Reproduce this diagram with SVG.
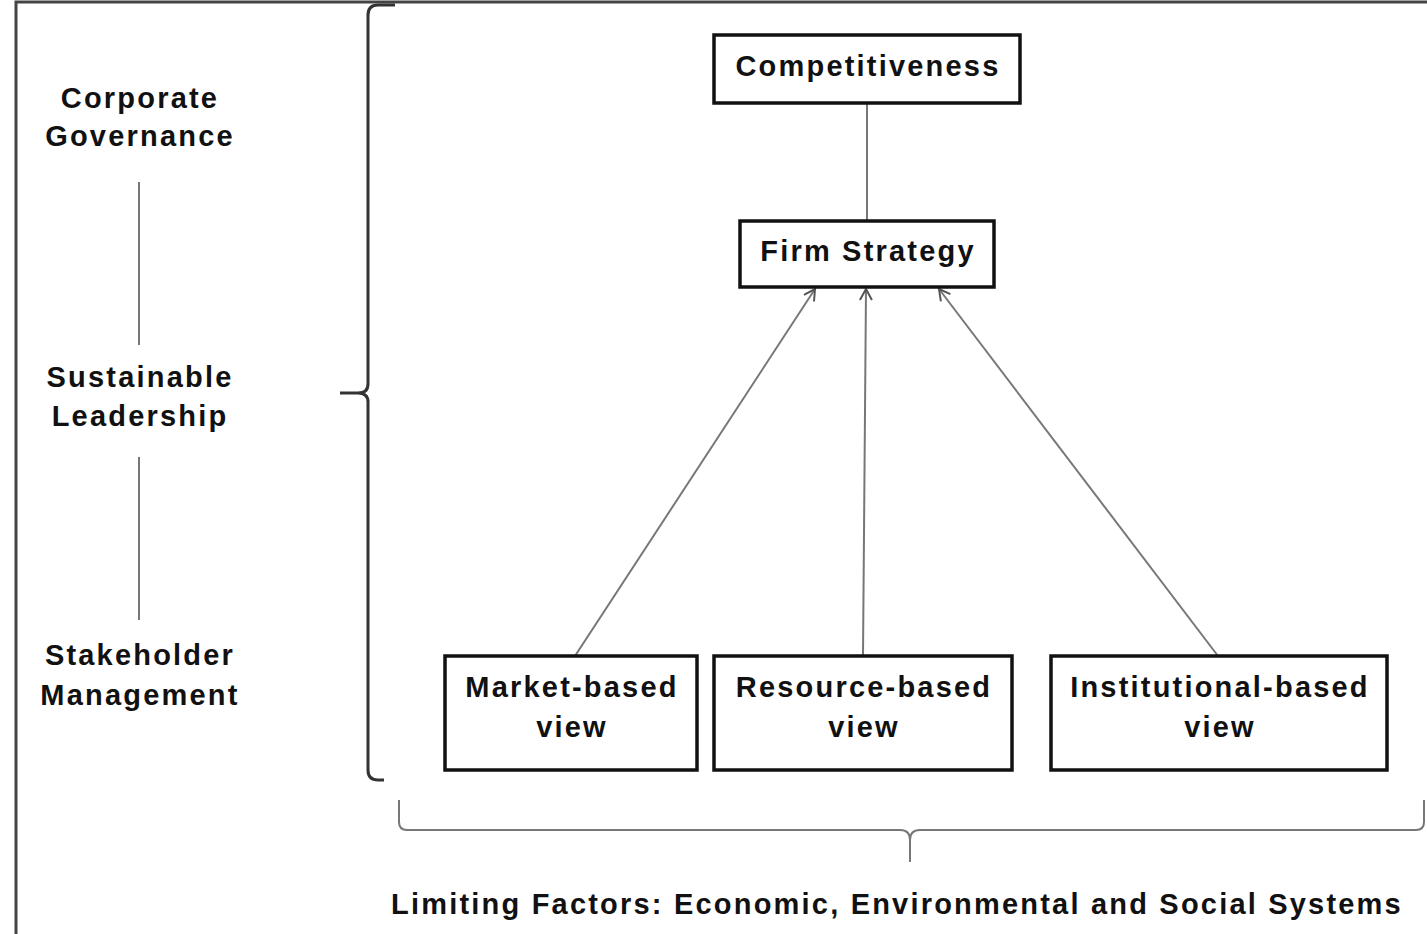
<svg xmlns="http://www.w3.org/2000/svg" width="1427" height="934" viewBox="0 0 1427 934">
<style>
.t{font-family:"Liberation Sans",Arial,sans-serif;font-weight:bold;font-size:29px;letter-spacing:2.2px;fill:#111;text-anchor:middle}
.box{fill:#fff;stroke:#111;stroke-width:3.5}
.ln{stroke:#777;stroke-width:2;fill:none}
.br{stroke:#333;stroke-width:3;fill:none}
</style>
<defs>
<marker id="ah" markerWidth="14" markerHeight="14" refX="12" refY="7" orient="auto" markerUnits="userSpaceOnUse">
<path d="M1,1 L12,7 L1,13" fill="none" stroke="#555" stroke-width="2"/>
</marker>
</defs>
<rect x="16" y="2" width="1430" height="950" fill="#fff" stroke="#444" stroke-width="3"/>
<g id="left-labels">
<text class="t" x="140" y="108">Corporate</text>
<text class="t" x="140" y="146">Governance</text>
<text class="t" x="140" y="387">Sustainable</text>
<text class="t" x="140" y="426">Leadership</text>
<text class="t" x="140" y="665">Stakeholder</text>
<text class="t" x="140" y="705">Management</text>
</g>
<g id="braces">
<path class="br" d="M395,5 L378,5 Q368,5 368,15 L368,384 Q368,393 358,393 L340,393 M358,393 Q368,393 368,402 L368,770 Q368,780 378,780 L384,780"/>
<path class="ln" d="M399,800 L399,822 Q399,830 407,830 L900,830 Q910,830 910,840 L910,862 M910,840 Q910,830 920,830 L1416,830 Q1424,830 1424,822 L1424,800"/>
<text class="t" x="897" y="914">Limiting Factors: Economic, Environmental and Social Systems</text>
</g>
<g id="connectors">
<line class="ln" x1="139" y1="182" x2="139" y2="345"/>
<line class="ln" x1="139" y1="457" x2="139" y2="620"/>
<line class="ln" x1="867" y1="104" x2="867" y2="220"/>
<line class="ln" x1="575" y1="656" x2="815" y2="289" marker-end="url(#ah)"/>
<line class="ln" x1="863" y1="656" x2="866" y2="289" marker-end="url(#ah)"/>
<line class="ln" x1="1218" y1="656" x2="939" y2="289" marker-end="url(#ah)"/>
</g>
<g id="competitiveness"><rect class="box" x="714" y="35" width="306" height="68"/><text class="t" x="868" y="76">Competitiveness</text></g>
<g id="firm-strategy"><rect class="box" x="740" y="221" width="254" height="66"/><text class="t" x="868" y="261">Firm Strategy</text></g>
<g id="market"><rect class="box" x="445" y="656" width="252" height="114"/><text class="t" x="572" y="697">Market-based</text><text class="t" x="572" y="737">view</text></g>
<g id="resource"><rect class="box" x="714" y="656" width="298" height="114"/><text class="t" x="864" y="697">Resource-based</text><text class="t" x="864" y="737">view</text></g>
<g id="institutional"><rect class="box" x="1051" y="656" width="336" height="114"/><text class="t" x="1220" y="697">Institutional-based</text><text class="t" x="1220" y="737">view</text></g>
</svg>
